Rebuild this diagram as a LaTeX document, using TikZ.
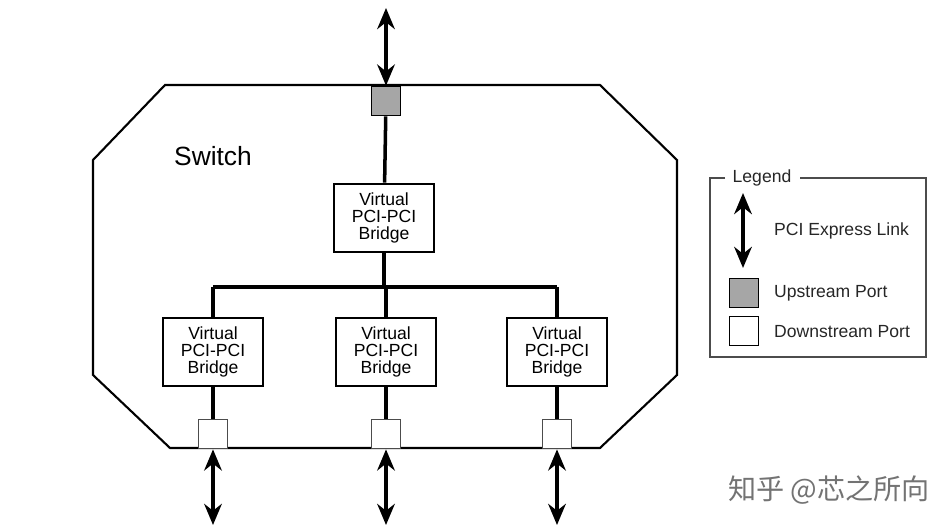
\documentclass[tikz,border=0pt]{standalone}
\usepackage{fontspec}
\setmainfont{Liberation Sans}
\newfontfamily\cjk{Noto Sans CJK SC}
\usetikzlibrary{arrows.meta}
\begin{document}
\begin{tikzpicture}[x=0.02cm,y=-0.02cm,
  bridge/.style={draw,line width=1.5pt,minimum width=2cm,minimum height=1.36cm,align=center,font=\fontsize{10}{9.5}\selectfont,inner sep=0pt},
  port/.style={draw,line width=1pt,minimum size=0.58cm,inner sep=0pt},
  up/.style={port,fill=gray!70},
  dn/.style={port,draw=black!70,fill=white},
  link/.style={line width=2.8pt,{Stealth[length=12pt,width=10pt]}-{Stealth[length=12pt,width=10pt]}},
  wire/.style={line width=2pt},
  lt/.style={anchor=west,font=\fontsize{10}{10}\selectfont,text=black!85}]
\useasboundingbox (0,0) rectangle (950,527);
\draw[line width=1.2pt] (165,85)--(600,85)--(677,160)--(677,375)--(600,448)--(170,448)--(93,375)--(93,160)--cycle;
\node[font=\fontsize{15}{15}\selectfont] (sw) at (213,156) {Switch};
\node[up] (u) at (386,101) {};
\coordinate (ut) at (386,8);
\draw[link] (ut) -- (u.north);
\node[bridge] (b0) at (384,218) {Virtual\\PCI-PCI\\Bridge};
\draw[wire] (u) -- (b0);
\coordinate (bus) at (384,287);
\draw[wire] (b0.south) -- (bus);
\coordinate (bl) at (213,287);
\coordinate (br) at (557,287);
\draw[wire] (bl) -- (br);
\foreach \n/\x in {1/213,2/386,3/557}{
  \node[bridge] (b\n) at (\x,352) {Virtual\\PCI-PCI\\Bridge};
  \coordinate (t\n) at (\x,287);
  \draw[wire] (t\n) -- (b\n.north);
  \node[dn] (d\n) at (\x,434) {};
  \draw[wire] (b\n.south) -- (d\n.north);
  \coordinate (e\n) at (\x,525);
  \draw[link] (d\n.south) -- (e\n);
}
% legend
\draw[line width=0.8pt,draw=black!70] (725,178) -- (710,178) -- (710,357) -- (926,357) -- (926,178) -- (800,178);
\node[font=\fontsize{10}{10}\selectfont,text=black!85] (lg) at (762,178) {Legend};
\coordinate (la) at (743,193);
\coordinate (lb) at (743,268);
\draw[link] (la) -- (lb);
\node[lt] (t1) at (768,231) {PCI Express Link};
\node[up] (lu) at (744,293) {};
\node[lt] (t2) at (768,293) {Upstream Port};
\node[port,fill=white] (ld) at (744,331) {};
\node[lt] (t3) at (768,332) {Downstream Port};
\node[anchor=west,text=black!55,font=\cjk\fontsize{16}{16}\selectfont] (wm) at (722,490) {知乎 @芯之所向};
\end{tikzpicture}
\end{document}
